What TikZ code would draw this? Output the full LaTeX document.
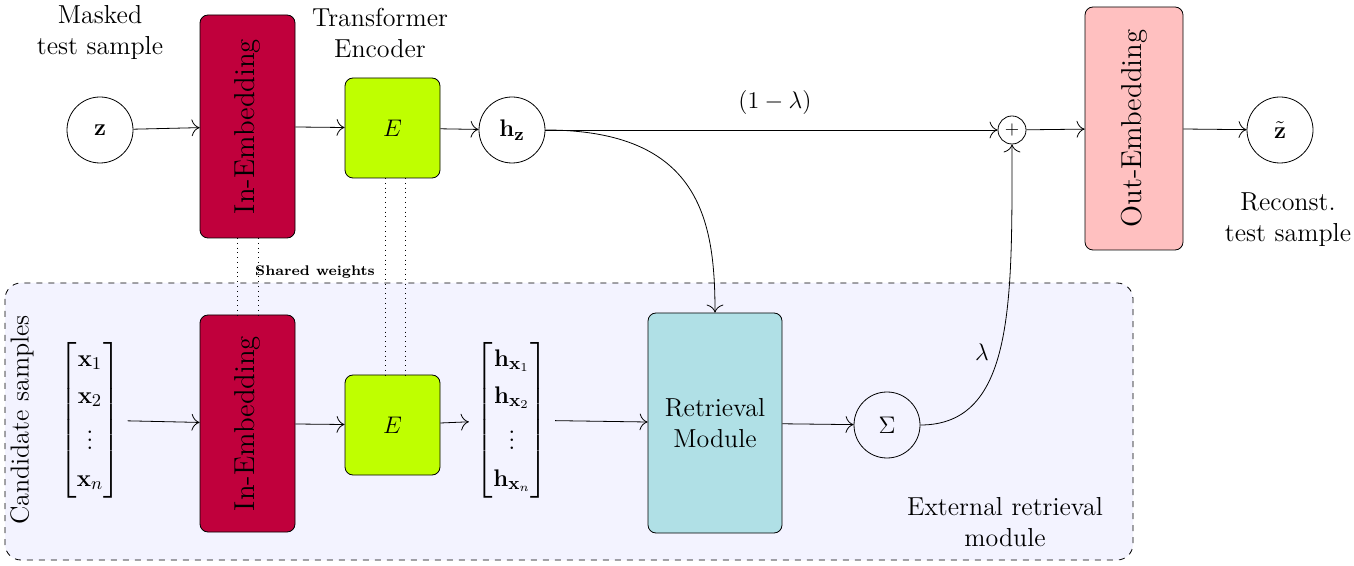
\documentclass[tikz,border=0pt]{standalone}
\usepackage{amsmath,amssymb}
\usetikzlibrary{arrows.meta}
\definecolor{emb}{HTML}{C0003C}
\definecolor{enc}{HTML}{BFFF00}
\definecolor{outemb}{HTML}{FFC0C0}
\definecolor{ret}{HTML}{B0E0E6}
\definecolor{bg}{HTML}{F3F3FF}
\begin{document}
\begin{tikzpicture}[x=0.5pt,y=-0.5pt,font=\fontsize{13}{15.5}\selectfont,
  box/.style={draw,rounded corners=4pt,inner sep=0pt},
  circ/.style={draw,circle,minimum size=33pt,inner sep=0pt},
  arr/.style={-{To[length=4pt]}},
  lbl/.style={align=center}]
\useasboundingbox (0,0) rectangle (1354,566);
\draw[dashed,rounded corners=8pt,fill=bg] (5,283) rectangle (1133,560);
% top row
\node[circ] (z) at (100,130) {$\mathbf{z}$};
\node[box,fill=emb,minimum width=47.5pt,minimum height=111.5pt] (ie1) at (247.5,126.5) {};
\node[rotate=90,font=\Large] at (ie1) {In-Embedding};
\node[box,fill=enc,minimum width=47.5pt,minimum height=50pt] (e1) at (392.5,128) {$E$};
\node[circ] (hz) at (512,130) {$\mathbf{h}_{\mathbf{z}}$};
\node[draw,circle,minimum size=14pt,inner sep=0pt,font=\small] (plus) at (1012,130) {$+$};
\node[box,fill=outemb,minimum width=49pt,minimum height=121.5pt] (oe) at (1134,128.5) {};
\node[rotate=90,font=\Large] at (oe) {Out-Embedding};
\node[circ] (zt) at (1280,130) {$\tilde{\mathbf{z}}$};
\node[lbl] (l1) at (100,33) {Masked\\test sample};
\node[lbl] (l2) at (380,33) {Transformer\\Encoder};
\node (l3) at (775,103) {$(1-\lambda)$};
\node[lbl] (l4) at (1288,220) {Reconst.\\test sample};
% bottom row
\node[rotate=90] (cs) at (22,420) {Candidate samples};
\node (xm) at (90,420) {$\begin{bmatrix}\mathbf{x}_1\\[3pt] \mathbf{x}_2\\[3pt] \vdots\\[3pt] \mathbf{x}_n\end{bmatrix}$};
\node[box,fill=emb,minimum width=47.5pt,minimum height=108.5pt] (ie2) at (247.5,423.5) {};
\node[rotate=90,font=\Large] at (ie2) {In-Embedding};
\node[box,fill=enc,minimum width=47.5pt,minimum height=50pt] (e2) at (392.5,425) {$E$};
\node (hm) at (512,420) {$\begin{bmatrix}\mathbf{h}_{\mathbf{x}_1}\\[3pt] \mathbf{h}_{\mathbf{x}_2}\\[3pt] \vdots\\[3pt] \mathbf{h}_{\mathbf{x}_n}\end{bmatrix}$};
\node[box,fill=ret,minimum width=67pt,minimum height=110pt,lbl] (rm) at (715,423) {Retrieval\\Module};
\node[circ] (sig) at (887,425) {$\Sigma$};
\node[lbl] (l5) at (1005,522) {External retrieval\\module};
\node (lam) at (982,352) {$\lambda$};
\node[font=\scriptsize\bfseries] (sw) at (315,272) {Shared weights};
% dotted
\draw[dotted] (237,238)--(237,315) (258,238)--(258,315);
\draw[dotted] (385,178)--(385,375) (405,178)--(405,375);
% arrows
\draw[arr] (z)--(ie1);
\draw[arr] (ie1)--(e1);
\draw[arr] (e1)--(hz);
\draw[arr] (hz)--(plus);
\draw[arr] (plus)--(oe);
\draw[arr] (oe)--(zt);
\draw[arr] (hz.east) .. controls (700,130) and (715,220) .. (rm.north);
\draw[arr] (xm)--(ie2);
\draw[arr] (ie2)--(e2);
\draw[arr] (e2)--(hm);
\draw[arr] (hm)--(rm);
\draw[arr] (rm)--(sig);
\draw[arr] (sig.east) .. controls (1015,425) and (1012,300) .. (plus.south);
\end{tikzpicture}
\end{document}
